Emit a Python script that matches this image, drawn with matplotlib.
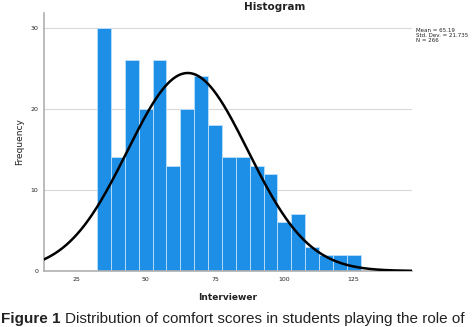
import numpy as np
import matplotlib
matplotlib.use("Agg")
import matplotlib.pyplot as plt

# Interviewer comfort scores, binned in steps of 5
bin_edges = [32.5 + 5 * i for i in range(20)]
counts = [30, 14, 26, 20, 26, 13, 20, 24, 18, 14, 14, 13, 12, 6, 7, 3, 2, 2, 2]
mean = 65.19
std_dev = 21.735
n_total = 266
x_ticks = [25, 50, 75, 100, 125]
y_ticks = [0, 10, 20, 30]

fig = plt.figure(figsize=(4.74, 3.27), dpi=100)
ax = fig.add_axes([0.0928, 0.1713, 0.7764, 0.7887])

lefts = np.array(bin_edges[:-1])
widths = np.diff(bin_edges)
ax.bar(lefts, counts, width=widths, align="edge", color="#1e8fe6",
       edgecolor="#bfe0fa", linewidth=0.6, zorder=2)

# fitted normal curve scaled to counts
xs = np.linspace(13.4, 146, 400)
bw = widths[0]
pdf = np.exp(-0.5 * ((xs - mean) / std_dev) ** 2) / (std_dev * np.sqrt(2 * np.pi))
ax.plot(xs, pdf * n_total * bw, color="black", linewidth=1.8, zorder=3)

ax.set_xlim(13.4, 146)
ax.set_ylim(0, 31.8)
ax.set_xticks(x_ticks)
ax.set_yticks(y_ticks)
ax.tick_params(length=0, labelsize=4.5, colors="#222222", pad=4)
ax.yaxis.grid(True, color="#d9d9d9", linewidth=0.8, zorder=0)
ax.set_axisbelow(True)
for side in ["top", "right"]:
    ax.spines[side].set_visible(False)
for side in ["left", "bottom"]:
    ax.spines[side].set_color("#b0b0b0")
    ax.spines[side].set_linewidth(1.2)

fig.text(275 / 474, 1 - 7 / 327, "Histogram", ha="center", va="center",
         fontsize=7.5, fontweight="bold", color="#222222")
fig.text(20 / 474, 1 - 142 / 327, "Frequency", ha="center", va="center",
         rotation=90, fontsize=6.5, color="#222222")
fig.text(228 / 474, 1 - 298 / 327, "Interviewer", ha="center", va="center",
         fontsize=6.5, fontweight="bold", color="#222222")

stats = "Mean = {:.2f}\nStd. Dev. = {}\nN = {}".format(mean, std_dev, n_total)
fig.text(416 / 474, 1 - 28 / 327, stats, ha="left", va="top",
         fontsize=4, linespacing=1.0, color="#222222")

# caption line under the chart
fig.text(1 / 474, 1 / 327, "Figure 1", ha="left", va="bottom",
         fontsize=11, fontweight="bold", color="#222222",
         family="Liberation Sans")
fig.text(65 / 474, 1 / 327,
         "Distribution of comfort scores in students playing the role of",
         ha="left", va="bottom", fontsize=11, color="#222222",
         family="Liberation Sans")

fig.savefig("out.png", dpi=100)
